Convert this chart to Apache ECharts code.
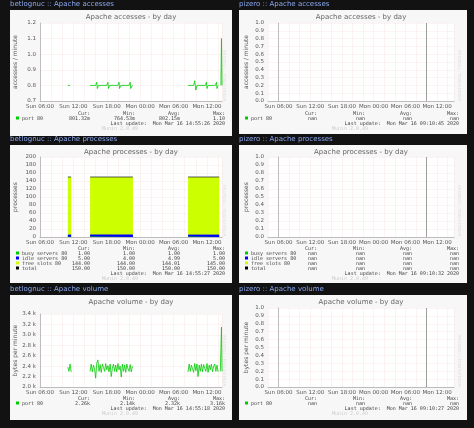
<!DOCTYPE html>
<html><head><meta charset="utf-8">
<script src="https://cdn.jsdelivr.net/npm/echarts@6/dist/echarts.min.js"></script>
<style>html,body{margin:0;padding:0;background:#121212}#c{width:474px;height:428px}</style>
</head><body><div id="c"></div>
<script>
const xTickLabels = {0:'Sun 06:00',6:'Sun 12:00',12:'Sun 18:00',18:'Mon 00:00',24:'Mon 06:00',30:'Mon 12:00'};
const accLeft = [[5.0,0.80],[5.4,0.80],[5.5,null],[9.0,0.80],[10.0,0.80],[10.2,0.82],[10.3,0.78],[10.5,0.80],[12.0,0.80],[12.2,0.82],[12.3,0.78],[12.5,0.80],[14.0,0.80],[14.2,0.82],[14.3,0.78],[14.5,0.80],[16.0,0.80],[16.2,0.82],[16.3,0.78],[16.6,0.80],[16.7,null],[26.6,0.80],[27.6,0.80],[27.8,0.83],[28.0,0.77],[28.2,0.80],[29.7,0.80],[29.9,0.82],[30.0,0.78],[30.2,0.80],[31.5,0.80],[31.7,0.82],[31.8,0.78],[32.0,0.80],[32.1,null],[32.5,0.80],[32.6,1.10],[32.7,0.80]];
// process segments: [start, end, busy, idle, free]
const procSegs = [[5.0,5.6,1,5,144],[9.0,16.7,1,5,144],[26.6,32.2,1,5,144],[32.6,32.8,1,3,0]];
const volSeg1 = {start:5.0, values:[2380,2300,2440,2290]};
const volSeg2 = {start:9.0, values:[2300,2440,2290,2420,2350,2170,2460,2520,2300,2430,2280,2440,2380,2300,2450,2330,2410,2290,2440,2200,2360,2440,2300,2420,2290,2450,2330,2400,2190,2440,2300,2420,2280,2440,2350,2300,2430,2290,2400]};
const volSeg3 = {start:26.6, values:[2290,2440,2300,2420,2350,2280,2450,2310,2440,2200,2420,2300,2440,2290,2430,2360,2300,2450,2280,2420,2330,2440,2290,2400,2440,2300,2420,2290]};
const volSpike = [[32.4,2300],[32.6,3150],[32.7,2300]];
const pizeroUpdate = 28.0;

function seg(s){const a=s.values.map((v,i)=>[+(s.start+i*0.2).toFixed(2),v]);a.push([+(s.start+s.values.length*0.2).toFixed(2),null]);return a;}
const volLeft = [].concat(seg(volSeg1),seg(volSeg2),seg(volSeg3),volSpike);

const chart = echarts.init(document.getElementById('c'),null,{renderer:'canvas'});
const G = [
 {l:40,r:222,t:23,b:101, min:0,max:32.7, ymin:0.7,ymax:1.2,yint:0.1,name:'accesses / minute',fmt:v=>v.toFixed(1)},
 {l:268,r:454,t:23,b:101, min:-2,max:33.2, ymin:0,ymax:1,yint:0.1,name:'accesses / minute',fmt:v=>v.toFixed(1)},
 {l:40,r:222,t:157,b:237, min:0,max:32.7, ymin:0,ymax:200,yint:20,name:'processes',fmt:v=>String(v)},
 {l:268,r:454,t:157,b:237, min:-2,max:33.2, ymin:0,ymax:1,yint:0.1,name:'processes',fmt:v=>v.toFixed(1)},
 {l:40,r:222,t:314,b:387, min:0,max:32.7, ymin:2000,ymax:3400,yint:200,name:'bytes per minute',fmt:v=>(v/1000).toFixed(1)+' k'},
 {l:268,r:454,t:308,b:387, min:-2,max:33.2, ymin:0,ymax:1,yint:0.1,name:'bytes per minute',fmt:v=>v.toFixed(1)}
];
const lab={fontSize:5.5,color:'#555',fontFamily:'DejaVu Sans'};
const grid=G.map(g=>({left:g.l,top:g.t,width:g.r-g.l,height:g.b-g.t,show:true,backgroundColor:'#fff',borderWidth:0}));
const xAxis=G.map((g,i)=>({type:'value',gridIndex:i,min:g.min,max:g.max,interval:2,
  axisLine:{onZero:false,lineStyle:{color:'#999',width:0.6}},axisTick:{show:false},
  axisLabel:{...lab,margin:3,showMaxLabel:false,formatter:v=>xTickLabels[v]||''},
  splitLine:{show:true,lineStyle:{color:'#f3cccc',width:0.5,type:'dotted'}}}));
const yAxis=G.map((g,i)=>({type:'value',gridIndex:i,min:g.ymin,max:g.ymax,interval:g.yint,
  name:g.name,nameLocation:'middle',nameGap:i%2?19:22,nameTextStyle:{...lab,fontSize:6},
  axisLine:{show:true,lineStyle:{color:'#999',width:0.6}},axisTick:{show:false},
  axisLabel:{...lab,margin:4,formatter:g.fmt},
  splitLine:{show:true,lineStyle:{color:'#f3cccc',width:0.5,type:'dotted'}}}));
const series=[
 {type:'line',xAxisIndex:0,yAxisIndex:0,data:accLeft,showSymbol:false,lineStyle:{color:'#00cc00',width:0.8},connectNulls:false,animation:false},
 {type:'line',xAxisIndex:4,yAxisIndex:4,data:volLeft,showSymbol:false,lineStyle:{color:'#00cc00',width:0.8},animation:false},
 ...[1,3,5].map(i=>({type:'line',xAxisIndex:i,yAxisIndex:i,data:[],animation:false,
   markLine:{symbol:'none',silent:true,label:{show:false},lineStyle:{color:'#888',width:0.8,type:'solid'},data:[{xAxis:pizeroUpdate}]}}))
];
procSegs.forEach(s=>{
 const [a,b,busy,idle,free]=s;
 const layers=[[busy+idle+free,'#ccff00'],[busy+idle,'#0000ff'],[busy,'#00cc00']];
 layers.forEach(([v,c])=>{ if(v>0) series.push({type:'line',xAxisIndex:2,yAxisIndex:2,data:[[a,v],[b,v]],showSymbol:false,
   lineStyle:{width:0},areaStyle:{color:c,opacity:1},animation:false});});
 if(free>0) series.push({type:'line',xAxisIndex:2,yAxisIndex:2,data:[[a,150],[b,150]],showSymbol:false,lineStyle:{color:'#333',width:0.8},animation:false,z:5});
});
const gfx=[];
const mono={fontFamily:'DejaVu Sans Mono',fontSize:5,fill:'#444'};
function txt(x,y,s,o){gfx.push({type:'text',x,y,style:{text:s,...mono,...(o||{})},z:10});}
function rect(x,y,w,h,f,z){gfx.push({type:'rect',shape:{x,y,width:w,height:h},style:{fill:f},z:z||0});}
const panels=[
 {x:10,y:10,w:222,h:126,title:'betlognuc :: Apache accesses',sub:'Apache accesses - by day'},
 {x:239,y:10,w:228,h:124,title:'pizero :: Apache accesses',sub:'Apache accesses - by day'},
 {x:10,y:145,w:222,h:138,title:'betlognuc :: Apache processes',sub:'Apache processes - by day'},
 {x:239,y:145,w:228,h:138,title:'pizero :: Apache processes',sub:'Apache processes - by day'},
 {x:10,y:295,w:222,h:125,title:'betlognuc :: Apache volume',sub:'Apache volume - by day'},
 {x:239,y:295,w:228,h:125,title:'pizero :: Apache volume',sub:'Apache volume - by day'}
];
panels.forEach((p,i)=>{
 rect(p.x,p.y,p.w,p.h,'#f7f7f7',-1);
 txt(p.x,p.y-9,p.title,{fontFamily:'DejaVu Sans',fontSize:7,fill:'#8aa8f0'});
 const g=G[i];
 txt((g.l+g.r)/2,p.y+4,p.sub,{fontFamily:'DejaVu Sans',fontSize:7,fill:'#666',align:'center'});
 gfx.push({type:'text',x:p.x+p.w-6,y:p.y+40,rotation:-Math.PI/2,style:{text:'RRDTOOL / TOBI OETIKER',fontFamily:'DejaVu Sans',fontSize:4,fill:'#ddd'}});
});
const colL=[90,135,180,225], colR=[317,365,412,459];
function legend(left,hy,rows,vals,upd){
 const cols=left?colL:colR, sx=left?16:245;
 ['Cur:','Min:','Avg:','Max:'].forEach((h,k)=>txt(cols[k],hy,h,{align:'right'}));
 rows.forEach((r,j)=>{const y=hy+5+j*5;rect(sx,y+0.5,3,3,r[1],10);txt(sx+6,y,r[0]);
  vals[j].forEach((v,k)=>txt(cols[k],y,v,{align:'right'}));});
 const ly=hy+5+rows.length*5;
 txt(cols[3],ly,'Last update:  '+upd,{align:'right'});
 txt(left?120:350,ly+5,'Munin 2.0.49',{fill:'#ccc',align:'center'});
}
const nan=['nan','nan','nan','nan'];
const procRows=[['busy servers 80','#00cc00'],['idle servers 80','#0000ff'],['free slots 80','#ccff00'],['total','#000']];
legend(true,111,[['port 80','#00cc00']],[['801.32m','764.53m','802.15m','1.10']],'Mon Mar 16 14:55:26 2020');
legend(false,111,[['port 80','#00cc00']],[nan],'Mon Mar 16 09:10:45 2020');
legend(true,246,procRows,[['1.00','1.00','1.00','1.00'],['5.00','4.00','4.99','5.00'],['144.00','144.00','144.01','145.00'],['150.00','150.00','150.00','150.00']],'Mon Mar 16 14:55:27 2020');
legend(false,246,procRows,[nan,nan,nan,nan],'Mon Mar 16 09:10:32 2020');
legend(true,396,[['port 80','#00cc00']],[['2.26k','2.14k','2.32k','3.16k']],'Mon Mar 16 14:55:18 2020');
legend(false,396,[['port 80','#00cc00']],[nan],'Mon Mar 16 09:10:27 2020');
chart.setOption({backgroundColor:'#121212',animation:false,grid,xAxis,yAxis,series,graphic:gfx});
</script></body></html>
